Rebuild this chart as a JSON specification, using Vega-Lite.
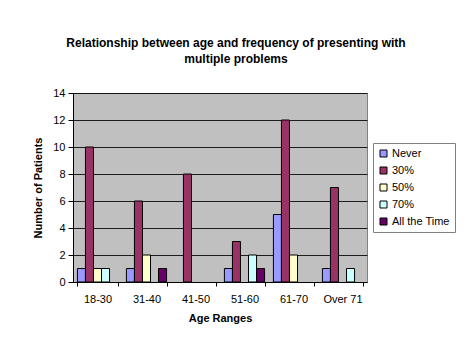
{
  "$schema": "https://vega.github.io/schema/vega-lite/v6.json",
  "width": 294,
  "height": 189,
  "autosize": {"type": "none"},
  "padding": {"left": 73, "top": 93, "right": 107, "bottom": 65},
  "background": "white",
  "title": {
    "text": ["Relationship between age and frequency of presenting with", "multiple problems"],
    "font": "Liberation Sans",
    "fontSize": 12,
    "fontWeight": "bold",
    "color": "#000000",
    "anchor": "middle",
    "dx": 16,
    "offset": 21,
    "lineHeight": 16
  },
  "data": {
    "values": [
      {"age": "18-30", "freq": "Never", "patients": 1},
      {"age": "18-30", "freq": "30%", "patients": 10},
      {"age": "18-30", "freq": "50%", "patients": 1},
      {"age": "18-30", "freq": "70%", "patients": 1},
      {"age": "31-40", "freq": "Never", "patients": 1},
      {"age": "31-40", "freq": "30%", "patients": 6},
      {"age": "31-40", "freq": "50%", "patients": 2},
      {"age": "31-40", "freq": "All the Time", "patients": 1},
      {"age": "41-50", "freq": "30%", "patients": 8},
      {"age": "51-60", "freq": "Never", "patients": 1},
      {"age": "51-60", "freq": "30%", "patients": 3},
      {"age": "51-60", "freq": "70%", "patients": 2},
      {"age": "51-60", "freq": "All the Time", "patients": 1},
      {"age": "61-70", "freq": "Never", "patients": 5},
      {"age": "61-70", "freq": "30%", "patients": 12},
      {"age": "61-70", "freq": "50%", "patients": 2},
      {"age": "Over 71", "freq": "Never", "patients": 1},
      {"age": "Over 71", "freq": "30%", "patients": 7},
      {"age": "Over 71", "freq": "70%", "patients": 1}
    ]
  },
  "mark": {"type": "bar", "stroke": "#000000", "strokeWidth": 1},
  "encoding": {
    "x": {
      "field": "age",
      "type": "nominal",
      "sort": ["18-30", "31-40", "41-50", "51-60", "61-70", "Over 71"],
      "scale": {"paddingInner": 0.18, "paddingOuter": 0.09},
      "axis": {
        "title": "Age Ranges",
        "labelAngle": 0,
        "tickBand": "extent",
        "tickSize": 4,
        "labelPadding": 7,
        "titlePadding": 8
      }
    },
    "xOffset": {
      "field": "freq",
      "type": "nominal",
      "scale": {"domain": ["Never", "30%", "50%", "70%", "All the Time"], "paddingInner": 0, "paddingOuter": 0}
    },
    "y": {
      "field": "patients",
      "type": "quantitative",
      "scale": {"domain": [0, 14], "nice": false},
      "axis": {
        "title": "Number of Patients",
        "values": [0, 2, 4, 6, 8, 10, 12, 14],
        "tickSize": 5,
        "labelPadding": 3,
        "titlePadding": 9,
        "grid": true
      }
    },
    "color": {
      "field": "freq",
      "type": "nominal",
      "scale": {
        "domain": ["Never", "30%", "50%", "70%", "All the Time"],
        "range": ["#9999FF", "#993366", "#FFFFCC", "#CCFFFF", "#660066"]
      },
      "legend": {
        "title": null,
        "orient": "none",
        "legendX": 300,
        "legendY": 50,
        "symbolType": "square",
        "symbolSize": 49,
        "symbolStrokeColor": "#000000",
        "symbolStrokeWidth": 1,
        "symbolOpacity": 1,
        "labelFont": "Liberation Sans",
        "labelFontSize": 11,
        "labelColor": "#000000",
        "labelOffset": 3,
        "rowPadding": 5,
        "padding": 5,
        "strokeColor": "#808080",
        "fillColor": "#FFFFFF"
      }
    }
  },
  "config": {
    "view": {"fill": "#C0C0C0", "stroke": "#808080", "strokeWidth": 1},
    "axis": {
      "labelFont": "Liberation Sans",
      "labelFontSize": 11,
      "labelColor": "#000000",
      "titleFont": "Liberation Sans",
      "titleFontSize": 11,
      "titleFontWeight": "bold",
      "titleColor": "#000000",
      "domainColor": "#000000",
      "tickColor": "#000000",
      "gridColor": "#000000",
      "gridOpacity": 0.85
    }
  }
}
